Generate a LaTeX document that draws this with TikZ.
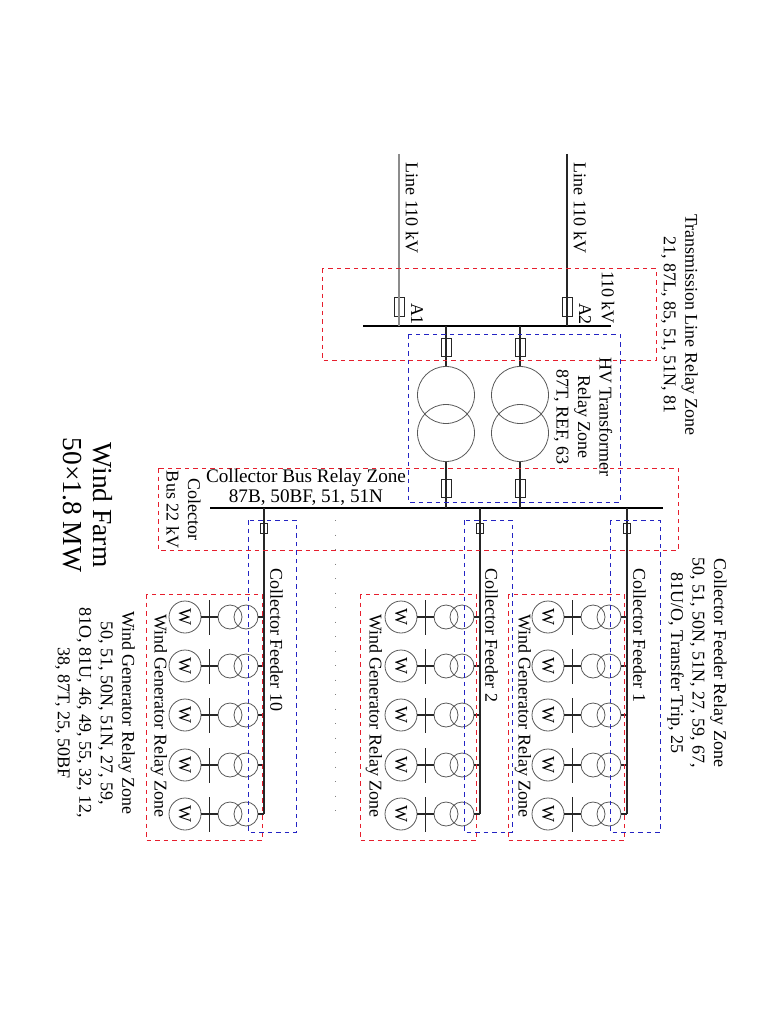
\documentclass[tikz,border=0pt]{standalone}
\usepackage{fontspec}
\setmainfont{Liberation Serif}
\definecolor{zonered}{RGB}{230,30,45}
\definecolor{zoneblue}{RGB}{35,35,195}
\tikzset{
    redzone/.style={draw=zonered,line width=1pt,dash pattern=on 4.5pt off 4pt},
    bluezone/.style={draw=zoneblue,line width=1pt,dash pattern=on 4.5pt off 4pt},
    bus/.style={line width=2.4pt},
    wire/.style={line width=1.05pt,draw=black!85},
    breaker/.style={draw=black!85,line width=0.9pt,minimum width=10pt,minimum height=18.5pt,inner sep=0pt},
    smallbreaker/.style={draw=black!85,line width=0.8pt,minimum width=7.5pt,minimum height=9.5pt,inner sep=0pt},
    winding/.style={circle,draw=black!65,line width=0.8pt,minimum size=57pt,inner sep=0pt},
    smallwinding/.style={circle,draw=black!65,line width=0.8pt,minimum size=24pt,inner sep=0pt},
    turbine/.style={circle,draw=black!65,line width=0.8pt,minimum size=32pt,inner sep=0pt,font=\fontsize{18}{18}\selectfont,rotate=-90},
    genbar/.style={fill=black!85,minimum width=1.5pt,minimum height=35pt,inner sep=0pt},
    lbl/.style={font=\fontsize{18}{21.5}\selectfont,align=center,inner sep=0pt},
    rlbl/.style={lbl,rotate=-90}
}
\begin{document}
\begin{tikzpicture}[x=1pt,y=-1pt]
        \useasboundingbox (0,0) rectangle (768,1024);
        % buses
        \coordinate (hvbusL) at (363,326);
        \coordinate (hvbusR) at (611,326);
        \coordinate (colbusL) at (210,508);
        \coordinate (colbusR) at (663,508);
        \coordinate (lineAone) at (399,154);
        \coordinate (lineAtwo) at (567,154);
        \draw [bus] (hvbusL) -- (hvbusR);
        \draw [bus] (colbusL) -- (colbusR);
        % incoming lines
        \node (brkAone) [breaker] at (399,307) {};
        \node (brkAtwo) [breaker] at (567,307) {};
        \draw [wire,draw=black!45] (lineAone) -- (brkAone.center) -- (brkAone |- hvbusL);
        \draw [wire] (lineAtwo) -- (brkAtwo.center) -- (brkAtwo |- hvbusL);
        % transformers
        \foreach \tname/\tx in {left/446,right/520} {
            \node (brkhv\tname) [breaker] at (\tx,347.5) {};
            \node (wdghv\tname) [winding] at (\tx,395) {};
            \node (wdglv\tname) [winding] at (\tx,433) {};
            \node (brklv\tname) [breaker] at (\tx,488.5) {};
            \draw [wire] (brkhv\tname |- hvbusL) -- (brkhv\tname.center) -- (wdghv\tname);
            \draw [wire] (wdglv\tname) -- (brklv\tname.center) -- (brklv\tname |- colbusL);
        }
        % feeders and wind generators
        \foreach \fname/\fx in {ten/264,two/480,one/627} {
            \node (brk\fname) [smallbreaker] at (\fx,528.5) {};
            \coordinate (end\fname) at (\fx,814);
            \draw [wire] (brk\fname |- colbusL) -- (brk\fname.center) -- (end\fname);
            \foreach \ry in {617,666,715,765,814} {
                \node (gen\fname\ry) [turbine] at (\fx-79,\ry) {W};
                \node (bar\fname\ry) [genbar] at (\fx-54.5,\ry) {};
                \node (wa\fname\ry) [smallwinding] at (\fx-34,\ry) {};
                \node (wb\fname\ry) [smallwinding] at (\fx-18,\ry) {};
                \draw [wire] (gen\fname\ry) -- (bar\fname\ry) -- (wa\fname\ry);
                \draw [wire] (wb\fname\ry) -- (\fx,\ry);
            }
        }
        \coordinate (dotstop) at (335,520);
        \coordinate (dotsbot) at (335,824);
        \draw [draw=black!50,line width=0.8pt,dash pattern=on 1pt off 13.5pt] (dotstop) -- (dotsbot);
        % relay zones
        \draw [redzone] (322,268) rectangle (656,360);
        \draw [redzone] (158,468) rectangle (678,550);
        \draw [redzone] (146,594) rectangle (262,840);
        \draw [redzone] (360,594) rectangle (476,840);
        \draw [redzone] (508,594) rectangle (624,840);
        \draw [bluezone] (408,334) rectangle (620,502);
        \draw [bluezone] (248,520) rectangle (296,832);
        \draw [bluezone] (464,520) rectangle (512,832);
        \draw [bluezone] (610,520) rectangle (660,832);
        % labels
        \node (lblLineOne) [rlbl] at (412,208) {Line 110 kV};
        \node (lblLineTwo) [rlbl] at (580,208) {Line 110 kV};
        \node (lblHV) [rlbl] at (608,297.5) {110 kV};
        \node (lblAone) [rlbl] at (417,314) {A1};
        \node (lblAtwo) [rlbl] at (585,314) {A2};
        \node (lblTrans) [rlbl] at (679.5,325) {Transmission Line Relay Zone\\21, 87L, 85, 51, 51N, 81};
        \node (lblHVzone) [rlbl] at (583,417) {HV Transformer\\Relay Zone\\87T, REF, 63};
        \node (lblBus) [lbl,font=\fontsize{19.2}{20.5}\selectfont] at (306,487.5) {Collector Bus Relay Zone\\87B, 50BF, 51, 51N};
        \node (lblCol) [rlbl] at (183.5,509.5) {Colector\\Bus 22 kV};
        \node (lblFten) [rlbl,anchor=west] at (276.5,568) {Collector Feeder 10};
        \node (lblFtwo) [rlbl,anchor=west] at (491.5,568) {Collector Feeder 2};
        \node (lblFone) [rlbl,anchor=west] at (639.5,568) {Collector Feeder 1};
        \node (lblFzone) [rlbl] at (697,663) {Collector Feeder Relay Zone\\50, 51, 50N, 51N, 27, 59, 67,\\81U/O, Transfer Trip, 25};
        \node (lblGtwo) [rlbl] at (374,716) {Wind Generator Relay Zone};
        \node (lblGone) [rlbl] at (523,716) {Wind Generator Relay Zone};
        \node (lblGten) [rlbl] at (159,716) {Wind Generator Relay Zone};
        \node (lblGzone) [rlbl] at (95,713) {Wind Generator Relay Zone\\50, 51, 50N, 51N, 27, 59,\\81O, 81U, 46, 49, 55, 32, 12,\\38, 87T, 25, 50BF};
        \node (lblFarm) [rlbl,font=\fontsize{27.5}{30}\selectfont] at (88,505) {Wind Farm\\50×1.8 MW};
    \end{tikzpicture}
\end{document}
